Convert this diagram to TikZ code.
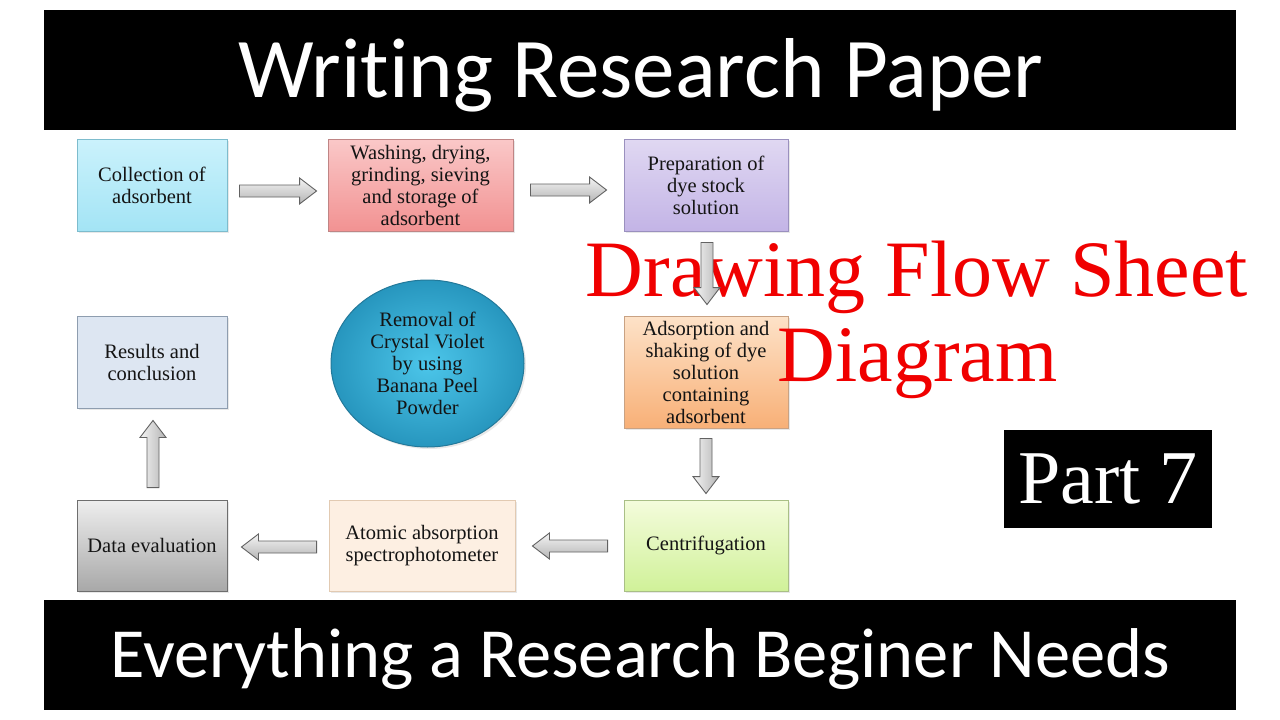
\documentclass[tikz,border=0pt]{standalone}
\usepackage{fontspec}
\setmainfont{Liberation Serif}
\newfontfamily\calibfont[Ligatures=NoCommon]{Carlito}
\usetikzlibrary{calc,shadows,shapes.geometric}

\definecolor{cyanT}{HTML}{CBF2FC}\definecolor{cyanB}{HTML}{A3E4F5}\definecolor{cyanD}{HTML}{7DBCCD}
\definecolor{pinkT}{HTML}{FAC8C8}\definecolor{pinkB}{HTML}{F29292}\definecolor{pinkD}{HTML}{BF8585}
\definecolor{lavT}{HTML}{E0D8F2}\definecolor{lavB}{HTML}{C3B4E6}\definecolor{lavD}{HTML}{9A90BE}
\definecolor{orgT}{HTML}{FDE2C8}\definecolor{orgB}{HTML}{F8B077}\definecolor{orgD}{HTML}{C9A283}
\definecolor{grnT}{HTML}{F4FCDC}\definecolor{grnB}{HTML}{D0F199}\definecolor{grnD}{HTML}{A9BF86}
\definecolor{peach}{HTML}{FDEFE2}\definecolor{peachD}{HTML}{E2CAB2}
\definecolor{gryT}{HTML}{EEEEEE}\definecolor{gryB}{HTML}{A8A8A8}\definecolor{gryD}{HTML}{6E6E6E}
\definecolor{bluL}{HTML}{DDE6F2}\definecolor{bluD}{HTML}{8E9DAF}
\definecolor{ballI}{HTML}{4CC6EA}\definecolor{ballO}{HTML}{2796BE}\definecolor{ballD}{HTML}{23799A}
\definecolor{arrT}{HTML}{F4F4F4}\definecolor{arrB}{HTML}{B4B4B4}\definecolor{arrD}{HTML}{626262}
\definecolor{boxtext}{HTML}{141414}
\definecolor{redtitle}{HTML}{F00000}

\tikzset{
  bar/.style={rectangle, fill=black, draw=none, minimum width=1192pt, minimum height=#1, inner sep=0pt},
  bartext/.style={text=white, inner sep=0pt, font=\calibfont\fontsize{#1}{#1}\selectfont},
  fbox/.style={rectangle, draw, line width=0.9pt, inner sep=2pt, align=center, text=boxtext,
     font=\fontsize{20.5}{22}\selectfont,
     drop shadow={opacity=0.18, shadow xshift=2pt, shadow yshift=-2pt}},
  redtext/.style={text=redtitle, inner sep=0pt, font=\fontsize{80}{85}\selectfont},
  arrowbody/.style={draw=arrD, line width=0.9pt, line join=miter},
  hshade/.style={top color=arrT, bottom color=arrB},
  vshade/.style={left color=arrT, right color=arrB},
}

% block arrow from (#2s) to (#2e)
\newcommand\blockarr[2][]{%
  \coordinate (#2h) at ($(#2e)!17pt!(#2s)$);
  \draw[arrowbody,#1] ($(#2s)!6pt!90:(#2e)$) -- ($(#2h)!6pt!-90:(#2s)$)
     -- ($(#2h)!13pt!-90:(#2s)$) -- (#2e) -- ($(#2h)!13pt!90:(#2s)$)
     -- ($(#2h)!6pt!90:(#2s)$) -- ($(#2s)!6pt!-90:(#2e)$) -- cycle;}

\begin{document}
\begin{tikzpicture}[x=1pt,y=-1pt]
\useasboundingbox (0,0) rectangle (1280,720);
\fill[white] (0,0) rectangle (1280,720);

% title bars
\node[bar=120pt] (topbar) at (640,70) {};
\node[bartext=85, anchor=base] (title) at (641,97) {Writing Research Paper};
\node[bar=110pt] (botbar) at (640,655) {};
\node[bartext=70.5, anchor=base] (subtitle) at (640,677) {Everything a Research Beginer Needs};

% boxes
\node[fbox, minimum width=150pt, minimum height=92pt, draw=cyanD, top color=cyanT, bottom color=cyanB] (c1) at (152,185) {Collection of\\adsorbent};
\node[fbox, minimum width=185pt, minimum height=92pt, draw=pinkD, top color=pinkT, bottom color=pinkB] (c2) at (420.5,185) {Washing, drying,\\grinding, sieving\\and storage of\\adsorbent};
\node[fbox, minimum width=164pt, minimum height=92pt, draw=lavD, top color=lavT, bottom color=lavB] (c3) at (706,185) {Preparation of\\dye stock\\solution};
\node[fbox, minimum width=164pt, minimum height=112pt, draw=orgD, top color=orgT, bottom color=orgB] (c4) at (706,372) {Adsorption and\\shaking of dye\\solution\\containing\\adsorbent};
\node[fbox, minimum width=164pt, minimum height=91pt, draw=grnD, top color=grnT, bottom color=grnB] (c5) at (706,545.5) {Centrifugation};
\node[fbox, minimum width=186pt, minimum height=91pt, draw=peachD, fill=peach] (c6) at (422,545.5) {Atomic absorption\\spectrophotometer};
\node[fbox, minimum width=150pt, minimum height=91pt, draw=gryD, top color=gryT, bottom color=gryB] (c7) at (152,545.5) {Data evaluation};
\node[fbox, minimum width=150pt, minimum height=92pt, draw=bluD, fill=bluL] (c8) at (152,362) {Results and\\conclusion};

% central ellipse
\node[ellipse, draw=ballD, line width=1pt, inner color=ballI, outer color=ballO,
      minimum width=193pt, minimum height=167pt, inner sep=0pt, align=center,
      text=boxtext, font=\fontsize{20.5}{22}\selectfont,
      drop shadow={opacity=0.18, shadow xshift=2pt, shadow yshift=-2pt}]
      (hub) at (427.5,363.5) {Removal of\\Crystal Violet\\by using\\Banana Peel\\Powder};

% red overlay title
\node[redtext, anchor=base] (red1) at (917,296) {Drawing Flow Sheet};
\node[redtext, anchor=base] (red2) at (917.5,381) {Diagram};

% arrow end points
\coordinate (a12s) at ($(c1.east)+(12,6)$);  \coordinate (a12e) at ($(c2.west)+(-11,6)$);
\coordinate (a23s) at ($(c2.east)+(17,5)$);  \coordinate (a23e) at ($(c3.west)+(-17,5)$);
\coordinate (a34s) at ($(c3.south)+(1,11)$); \coordinate (a34e) at ($(c4.north)+(1,-11)$);
\coordinate (a45s) at ($(c4.south)+(0,10)$); \coordinate (a45e) at ($(c5.north)+(0,-6)$);
\coordinate (a56s) at ($(c5.west)+(-16,0.5)$); \coordinate (a56e) at ($(c6.east)+(17,0.5)$);
\coordinate (a67s) at ($(c6.west)+(-12,1.5)$); \coordinate (a67e) at ($(c7.east)+(14,1.5)$);
\coordinate (a78s) at ($(c7.north)+(1,-12)$); \coordinate (a78e) at ($(c8.south)+(1,12)$);

\blockarr[hshade]{a12}
\blockarr[hshade]{a23}
\blockarr[vshade]{a34}
\blockarr[vshade]{a45}
\blockarr[hshade]{a56}
\blockarr[hshade]{a67}
\blockarr[vshade]{a78}

% Part 7 label
\node[rectangle, fill=black, minimum width=208pt, minimum height=98pt, inner sep=0pt,
      text=white, font=\fontsize{76}{76}\selectfont] (part) at (1108,479) {Part 7};
\end{tikzpicture}
\end{document}
